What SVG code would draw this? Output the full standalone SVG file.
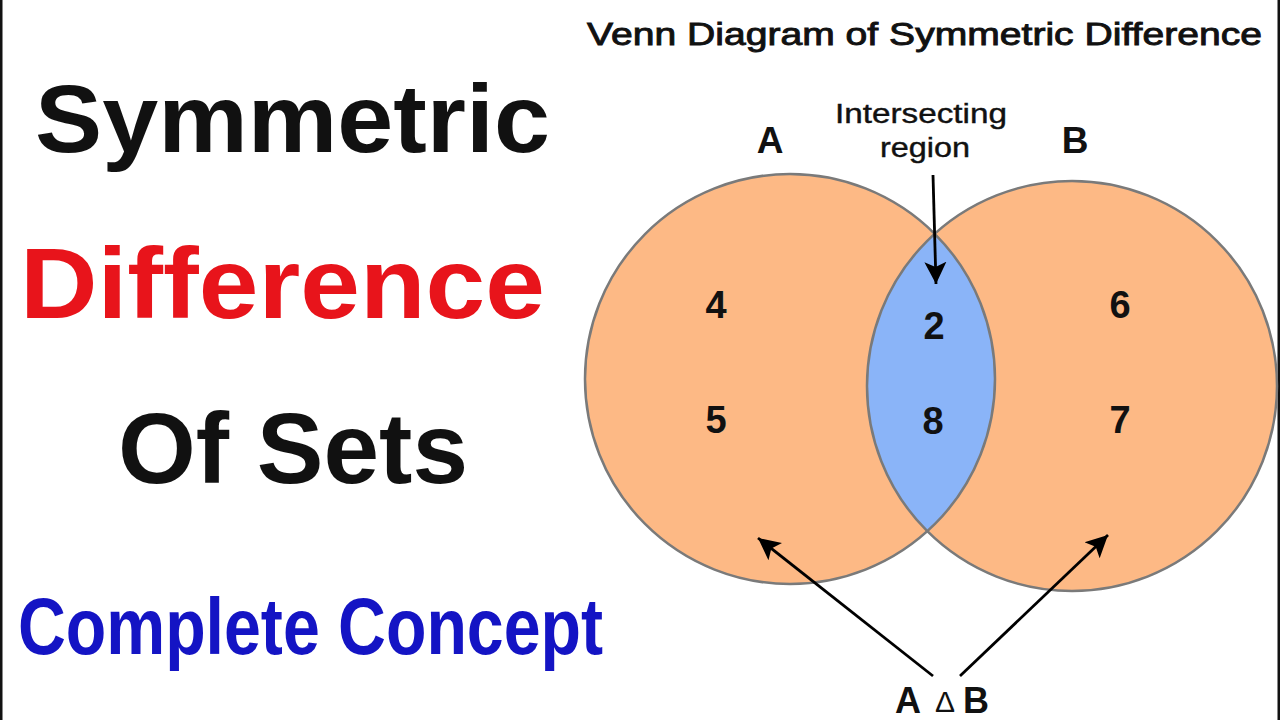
<svg xmlns="http://www.w3.org/2000/svg" width="1280" height="720" viewBox="0 0 1280 720">
  <style>
    .big { font-family: "Liberation Sans", Arial, sans-serif; font-weight: bold; }
    .lbl { font-family: "Liberation Sans", Arial, sans-serif; fill: #111; }
    .num { font-family: "Liberation Sans", Arial, sans-serif; font-weight: bold; font-size: 38px; fill: #111; text-anchor: middle; }
    .circ { fill: #FDB985; }
    .edge { fill: none; stroke: #7a7a7a; stroke-width: 2.5; }
    .conn { stroke: #000; stroke-width: 2.8; fill: none; marker-end: url(#arrow); }
  </style>
  <defs>
    <marker id="arrow" markerUnits="userSpaceOnUse" markerWidth="24" markerHeight="24" viewBox="0 0 24 24" refX="22" refY="12" orient="auto">
      <path d="M0,1 L22,12 L0,23 L5,12 Z" fill="#000"/>
    </marker>
    <clipPath id="clipA">
      <circle cx="790" cy="379" r="205"/>
    </clipPath>
  </defs>

  <rect x="0" y="0" width="1280" height="720" fill="#ffffff"/>
  <rect x="0" y="0" width="2.5" height="720" fill="#111"/>
  <rect x="1277.5" y="0" width="2.5" height="720" fill="#111"/>

  <g id="left-title">
    <text class="big" x="35" y="152" font-size="96" fill="#111" textLength="515" lengthAdjust="spacingAndGlyphs">Symmetric</text>
    <text class="big" x="20" y="318" font-size="100" fill="#E8141B" textLength="525" lengthAdjust="spacingAndGlyphs">Difference</text>
    <text class="big" x="118" y="483" font-size="100" fill="#111" textLength="350" lengthAdjust="spacingAndGlyphs">Of Sets</text>
    <text class="big" x="18" y="654" font-size="80" fill="#1414C4" textLength="585" lengthAdjust="spacingAndGlyphs">Complete Concept</text>
  </g>

  <g id="title">
    <text class="lbl" x="587" y="45" font-size="31" textLength="675" lengthAdjust="spacingAndGlyphs" stroke="#111" stroke-width="0.9">Venn Diagram of Symmetric Difference</text>
  </g>

  <g id="set-a">
    <circle class="circ" cx="790" cy="379" r="205"/>
  </g>
  <g id="set-b">
    <circle class="circ" cx="1072" cy="386" r="205"/>
  </g>
  <g id="intersection">
    <circle cx="1072" cy="386" r="205" fill="#8AB4F8" clip-path="url(#clipA)"/>
  </g>
  <g id="outlines">
    <circle class="edge" cx="790" cy="379" r="205"/>
    <circle class="edge" cx="1072" cy="386" r="205"/>
  </g>

  <g id="elements">
    <text class="num" x="716" y="318">4</text>
    <text class="num" x="716" y="433">5</text>
    <text class="num" x="934" y="339">2</text>
    <text class="num" x="933" y="434">8</text>
    <text class="num" x="1120" y="318">6</text>
    <text class="num" x="1120" y="433">7</text>
  </g>

  <g id="labels">
    <text class="lbl" x="770" y="153" font-size="37" font-weight="bold" text-anchor="middle">A</text>
    <text class="lbl" x="1075" y="153" font-size="37" font-weight="bold" text-anchor="middle">B</text>
    <text class="lbl" x="921" y="123" font-size="27" text-anchor="middle" textLength="172" lengthAdjust="spacingAndGlyphs" stroke="#111" stroke-width="0.4">Intersecting</text>
    <text class="lbl" x="925" y="157" font-size="27" text-anchor="middle" textLength="90" lengthAdjust="spacingAndGlyphs" stroke="#111" stroke-width="0.4">region</text>
    <text class="lbl" x="908" y="713" font-size="36" font-weight="bold" text-anchor="middle">A</text>
    <text class="lbl" x="945" y="712" font-size="30" text-anchor="middle">Δ</text>
    <text class="lbl" x="976" y="713" font-size="36" font-weight="bold" text-anchor="middle">B</text>
  </g>

  <g id="connectors">
    <line class="conn" x1="933" y1="175" x2="936" y2="284"/>
    <line class="conn" x1="933" y1="676" x2="758" y2="538"/>
    <line class="conn" x1="960" y1="676" x2="1108" y2="535"/>
  </g>
</svg>
